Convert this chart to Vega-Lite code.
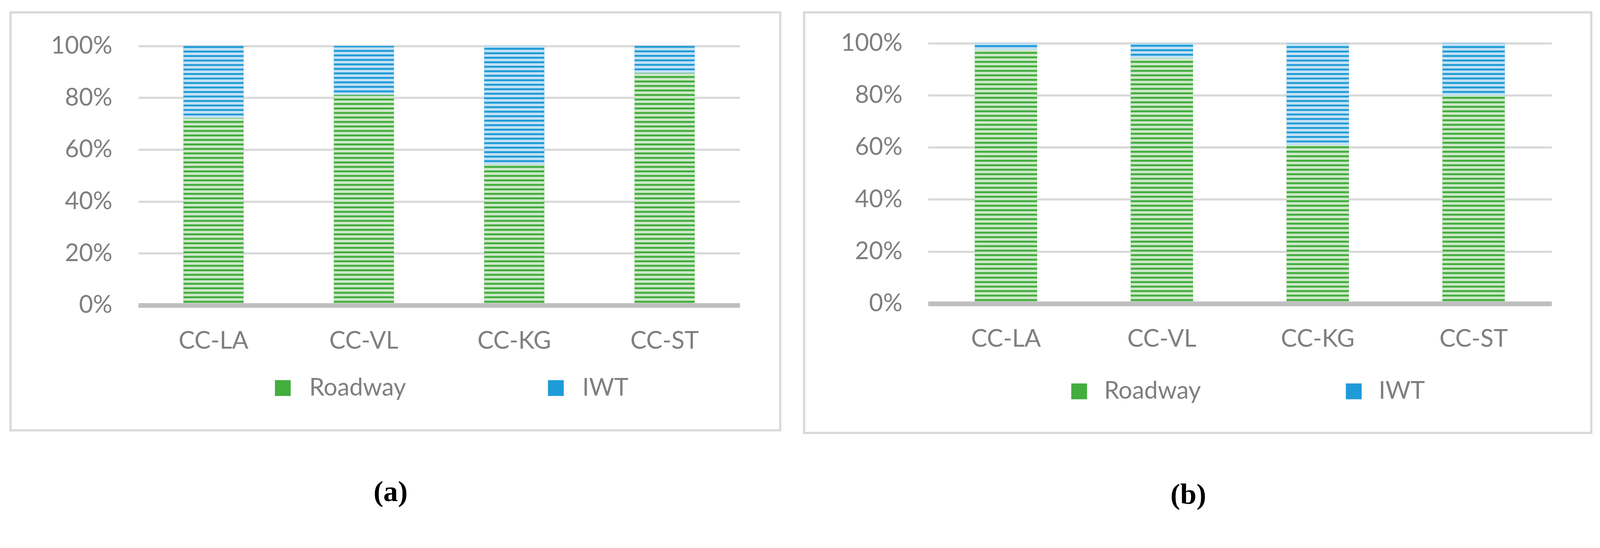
{
  "$schema": "https://vega.github.io/schema/vega-lite/v6.json",
  "background": "white",
  "padding": {"left": 24, "top": 26.8, "right": 0, "bottom": 0},
  "spacing": 54.6,
  "datasets": {
    "a": [
      {"route": "CC-LA", "mode": "Roadway", "share": 72.2},
      {"route": "CC-LA", "mode": "IWT", "share": 27.8},
      {"route": "CC-VL", "mode": "Roadway", "share": 81.1},
      {"route": "CC-VL", "mode": "IWT", "share": 18.9},
      {"route": "CC-KG", "mode": "Roadway", "share": 54.2},
      {"route": "CC-KG", "mode": "IWT", "share": 45.8},
      {"route": "CC-ST", "mode": "Roadway", "share": 89.6},
      {"route": "CC-ST", "mode": "IWT", "share": 10.4}
    ],
    "b": [
      {"route": "CC-LA", "mode": "Roadway", "share": 97.5},
      {"route": "CC-LA", "mode": "IWT", "share": 2.5},
      {"route": "CC-VL", "mode": "Roadway", "share": 94.2},
      {"route": "CC-VL", "mode": "IWT", "share": 5.8},
      {"route": "CC-KG", "mode": "Roadway", "share": 60.9},
      {"route": "CC-KG", "mode": "IWT", "share": 39.1},
      {"route": "CC-ST", "mode": "Roadway", "share": 79.9},
      {"route": "CC-ST", "mode": "IWT", "share": 20.1}
    ]
  },
  "hconcat": [
    {
      "width": 1970.4,
      "height": 1069.2,
      "data": {"name": "a"},
      "title": {"text": "(a)", "orient": "bottom", "offset": 122, "dx": -12.2},
      "transform": [
        {"stack": "share", "groupby": ["route"], "offset": "normalize", "sort": [{"field": "mode", "order": "descending"}], "as": ["v0", "v1"]}
      ],
      "layer": [
        {
          "mark": {"type": "bar"},
          "encoding": {
            "x": {
              "field": "route", "type": "nominal", "sort": ["CC-LA", "CC-VL", "CC-KG", "CC-ST"],
              "scale": {"range": [327.1, 1866.9], "paddingInner": 0.6, "paddingOuter": 0.3},
              "axis": {"title": null, "labelAngle": 0, "ticks": false, "grid": false, "domainColor": "#bfbfbf", "domainWidth": 12.2, "offset": -320, "labelPadding": 110.1, "labelBaseline": "alphabetic", "zindex": 1}
            },
            "y": {
              "field": "v0", "type": "quantitative",
              "scale": {"domain": [0, 1], "range": [749.2, 85.6], "nice": false},
              "axis": {"title": null, "values": [0, 0.2, 0.4, 0.6, 0.8, 1], "format": ".0%", "domain": false, "ticks": false, "grid": true, "gridColor": "#d9d9d9", "gridWidth": 5.65, "offset": -327.1, "labelPadding": 66.8}
            },
            "y2": {"field": "v1"},
            "fill": {
              "field": "mode", "type": "nominal",
              "scale": {"domain": ["Roadway", "IWT"], "range": ["#43ad3e", "#1f9bd7"]},
              "legend": {"orient": "none", "legendX": 666, "legendY": 929.9, "labelOffset": 36.7, "columnPadding": 352}
            }
          }
        },
        {
          "mark": {"type": "rule", "strokeWidth": 154, "strokeDash": [6.6, 4.9]},
          "encoding": {
            "x": {"field": "route", "type": "nominal", "sort": ["CC-LA", "CC-VL", "CC-KG", "CC-ST"]},
            "y": {"field": "v0", "type": "quantitative"},
            "y2": {"field": "v1"},
            "stroke": {
              "field": "mode", "type": "nominal",
              "scale": {"domain": ["Roadway", "IWT"], "range": ["#cfe9ca", "#c4e2f4"]},
              "legend": null
            }
          }
        }
      ]
    },
    {
      "width": 2015.1,
      "height": 1075.8,
      "data": {"name": "b"},
      "title": {"text": "(b)", "orient": "bottom", "offset": 122, "dx": -24},
      "transform": [
        {"stack": "share", "groupby": ["route"], "offset": "normalize", "sort": [{"field": "mode", "order": "descending"}], "as": ["v0", "v1"]}
      ],
      "layer": [
        {
          "mark": {"type": "bar"},
          "encoding": {
            "x": {
              "field": "route", "type": "nominal", "sort": ["CC-LA", "CC-VL", "CC-KG", "CC-ST"],
              "scale": {"range": [317.2, 1913.4], "paddingInner": 0.6, "paddingOuter": 0.3},
              "axis": {"title": null, "labelAngle": 0, "ticks": false, "grid": false, "domainColor": "#bfbfbf", "domainWidth": 12.2, "offset": -330.8, "labelPadding": 110.1, "labelBaseline": "alphabetic", "zindex": 1}
            },
            "y": {
              "field": "v0", "type": "quantitative",
              "scale": {"domain": [0, 1], "range": [745, 78.6], "nice": false},
              "axis": {"title": null, "values": [0, 0.2, 0.4, 0.6, 0.8, 1], "format": ".0%", "domain": false, "ticks": false, "grid": true, "gridColor": "#d9d9d9", "gridWidth": 5.65, "offset": -317.2, "labelPadding": 65.9}
            },
            "y2": {"field": "v1"},
            "fill": {
              "field": "mode", "type": "nominal",
              "scale": {"domain": ["Roadway", "IWT"], "range": ["#43ad3e", "#1f9bd7"]},
              "legend": {"orient": "none", "legendX": 673, "legendY": 938.4, "labelOffset": 32.9, "columnPadding": 360}
            }
          }
        },
        {
          "mark": {"type": "rule", "strokeWidth": 159.6, "strokeDash": [6.6, 4.9]},
          "encoding": {
            "x": {"field": "route", "type": "nominal", "sort": ["CC-LA", "CC-VL", "CC-KG", "CC-ST"]},
            "y": {"field": "v0", "type": "quantitative"},
            "y2": {"field": "v1"},
            "stroke": {
              "field": "mode", "type": "nominal",
              "scale": {"domain": ["Roadway", "IWT"], "range": ["#cfe9ca", "#c4e2f4"]},
              "legend": null
            }
          }
        }
      ]
    }
  ],
  "resolve": {"scale": {"fill": "independent", "stroke": "independent"}},
  "config": {
    "view": {"stroke": "#d9d9d9", "strokeWidth": 5.65},
    "axis": {"labelFont": "Lato", "labelFontSize": 62, "labelColor": "#7f7f7f", "labelLimit": 0},
    "legend": {"direction": "horizontal", "title": null, "symbolType": "square", "symbolSize": 1638, "symbolStrokeWidth": 0, "labelFont": "Lato", "labelFontSize": 62, "labelColor": "#7f7f7f", "labelLimit": 0, "padding": 0},
    "title": {"font": "Liberation Serif", "fontSize": 75, "fontWeight": "bold", "color": "black", "anchor": "middle"}
  }
}
